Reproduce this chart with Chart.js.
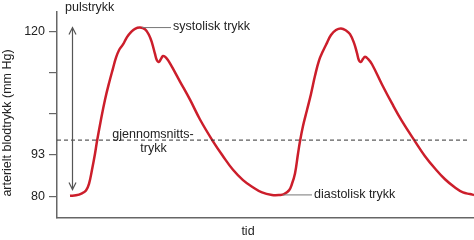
<!DOCTYPE html>
<html>
<head>
<meta charset="utf-8">
<script src="https://cdn.jsdelivr.net/npm/chart.js@4.4.1/dist/chart.umd.min.js"></script>
<style>
  html, body { margin: 0; padding: 0; background: #fff; }
  #wrap { width: 474px; height: 240px; position: relative; }
</style>
</head>
<body>
<div id="wrap"><canvas id="bp"></canvas></div>
<script>
/* ── DATA ── */
// time in ms, pressure in mm Hg (schematic scale)
const timeMs = [52,76,100,116,128,140,152,160,176,192,208,224,236,248,264,280,296,312,332,352,368,380,392,400,408,416,424,436,452,492,532,572,624,664,704,744,780,820,860,892,
  908,928,940,952,964,972,984,1000,1016,1032,1048,1064,1080,1096,1116,1136,1156,1172,1188,1200,1208,1216,1224,1232,1244,1260,1300,1340,1380,1432,1472,1512,1552,1592,1624,1652,1668];
const pressure = [80.1,80.2,80.7,81.4,83.0,86.4,90.3,93.3,98.6,103.4,107.4,111.0,113.6,115.4,116.8,118.6,119.8,120.6,120.9,120.5,119.1,117.2,114.5,112.9,112.6,113.3,114.0,113.6,112.2,107.8,103.4,98.6,93.3,89.7,86.4,83.9,82.3,80.9,80.3,80.3,
  80.5,81.4,83.0,85.5,90.3,93.3,97.0,100.9,104.8,109.2,112.9,115.2,117.2,119.1,120.3,120.7,120.2,119.3,117.2,114.7,112.9,112.6,113.3,113.8,113.3,112.0,107.1,102.5,98.2,93.3,89.7,86.7,84.1,82.1,80.9,80.5,80.3];
const yTickValues = [80, 90, 100, 110, 120];
const yTickLabels = ['80', '93', '', '', '120'];
const meanPressure = 93.6;
const tMax = 1668;

const FONT = "'Liberation Sans', Arial, sans-serif";
const INK = '#222';
const GREY = '#666';

/* ── ANNOTATIONS ── */
const notes = {
  id: 'notes',
  afterDatasetsDraw(chart) {
    const { ctx, scales: { x, y } } = chart;
    ctx.save();

    // mean pressure dashed line
    ctx.strokeStyle = '#333';
    ctx.lineWidth = 1;
    ctx.setLineDash([4, 3]);
    ctx.beginPath();
    ctx.moveTo(x.getPixelForValue(0), y.getPixelForValue(meanPressure));
    ctx.lineTo(x.getPixelForValue(1652), y.getPixelForValue(meanPressure));
    ctx.stroke();
    ctx.setLineDash([]);

    // pulse pressure double arrow
    const ax = x.getPixelForValue(62);
    const aTop = y.getPixelForValue(120.9);
    const aBot = y.getPixelForValue(81.6);
    ctx.strokeStyle = '#555';
    ctx.lineWidth = 1.2;
    ctx.beginPath();
    ctx.moveTo(ax, aTop); ctx.lineTo(ax, aBot);
    ctx.moveTo(ax - 3.5, aTop + 7); ctx.lineTo(ax, aTop); ctx.lineTo(ax + 3.5, aTop + 7);
    ctx.moveTo(ax - 3.5, aBot - 7); ctx.lineTo(ax, aBot); ctx.lineTo(ax + 3.5, aBot - 7);
    ctx.stroke();

    // leader lines
    ctx.strokeStyle = '#777';
    ctx.lineWidth = 1;
    const sysY = y.getPixelForValue(120.9);
    ctx.beginPath();
    ctx.moveTo(x.getPixelForValue(340), sysY); ctx.lineTo(x.getPixelForValue(456), sysY);
    const diaY = y.getPixelForValue(80.3);
    ctx.moveTo(x.getPixelForValue(904), diaY); ctx.lineTo(x.getPixelForValue(1020), diaY);
    ctx.stroke();

    // texts
    ctx.fillStyle = INK;
    ctx.font = '12.5px ' + FONT;
    ctx.textBaseline = 'middle';
    ctx.textAlign = 'left';
    ctx.fillText('pulstrykk', x.getPixelForValue(32), 8);
    ctx.fillText('systolisk trykk', x.getPixelForValue(464), sysY - 1);
    ctx.fillText('diastolisk trykk', x.getPixelForValue(1028), diaY);
    ctx.textAlign = 'center';
    ctx.fillText('gjennomsnitts-', x.getPixelForValue(384), y.getPixelForValue(meanPressure) - 6);
    ctx.fillText('trykk', x.getPixelForValue(386), y.getPixelForValue(meanPressure) + 8);
    ctx.fillText('tid', x.getPixelForValue(764), 232);

    // y axis title
    ctx.translate(8, 123);
    ctx.rotate(-Math.PI / 2);
    ctx.fillText('arterielt blodtrykk (mm Hg)', 0, 0);
    ctx.restore();
  }
};

/* ── CHART ── */
new Chart(document.getElementById('bp'), {
  type: 'line',
  data: {
    datasets: [{
      data: timeMs.map((t, i) => ({ x: t, y: pressure[i] })),
      borderColor: '#cc1e2b',
      borderWidth: 2.5,
      pointRadius: 0,
      fill: false,
      tension: 0.4
    }]
  },
  options: {
    responsive: true,
    maintainAspectRatio: false,
    animation: false,
    layout: { padding: 0 },
    plugins: { legend: { display: false }, tooltip: { enabled: false } },
    scales: {
      x: {
        type: 'linear', min: 0, max: tMax,
        grid: { display: false },
        ticks: { display: false },
        border: { display: true, color: GREY, width: 1.5 },
        afterFit: s => { s.height = 22; }
      },
      y: {
        min: 74.7, max: 124.8,
        afterBuildTicks: s => { s.ticks = yTickValues.map(v => ({ value: v })); },
        ticks: {
          callback: (v, i) => yTickLabels[i],
          color: INK, padding: 4,
          font: { family: FONT, size: 12.5 }
        },
        grid: { drawOnChartArea: false, drawTicks: true, tickLength: 8, color: GREY, lineWidth: 1.2 },
        border: { display: true, color: GREY, width: 1.5 },
        afterFit: s => { s.width = 57; }
      }
    }
  },
  plugins: [notes]
});
</script>
</body>
</html>
